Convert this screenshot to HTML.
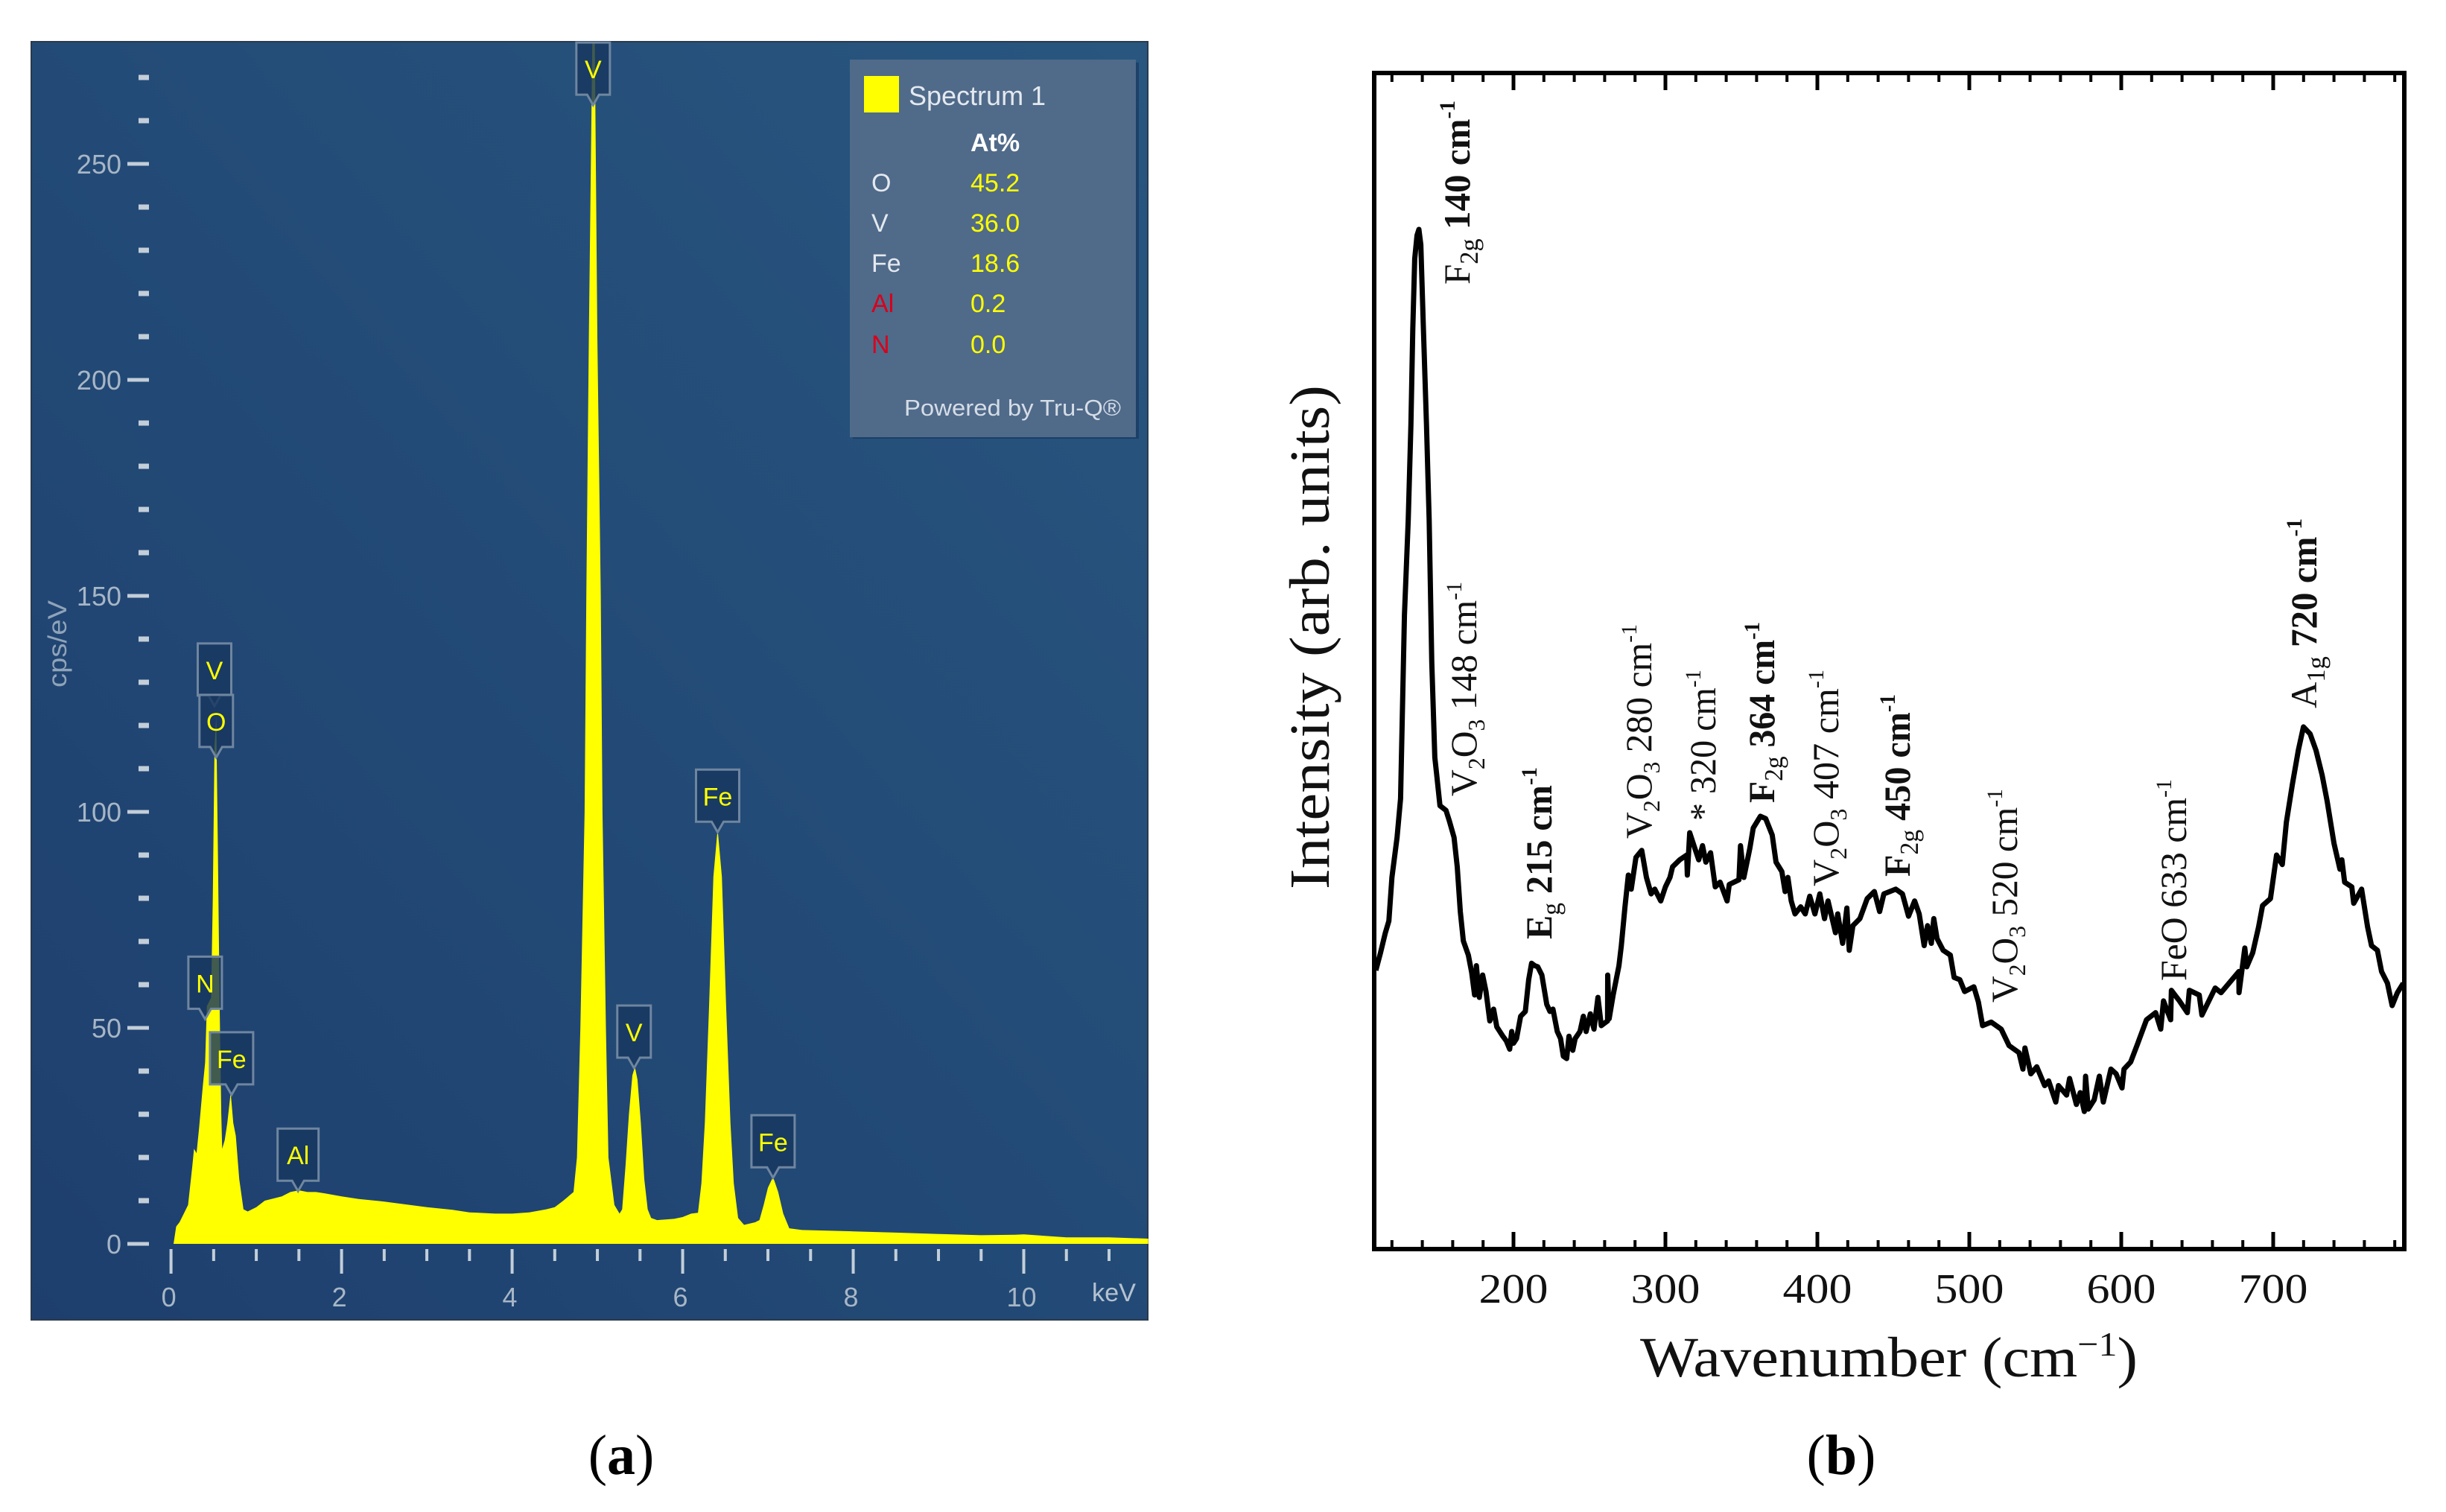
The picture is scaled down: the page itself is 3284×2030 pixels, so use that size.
<!DOCTYPE html>
<html lang="en">
<head>
<meta charset="utf-8">
<title>EDS spectrum and Raman spectrum</title>
<style>
html,body{margin:0;padding:0;background:#fff;}
svg{display:block;}
.ann{font-family:"Liberation Serif",serif;font-size:50px;fill:#111;}
.annb{font-family:"Liberation Serif",serif;font-size:50px;font-weight:bold;fill:#111;}
.annr{font-weight:normal;}
.leg{font-family:"Liberation Sans",sans-serif;font-size:34px;}
</style>
</head>
<body>
<svg id="fig" xmlns="http://www.w3.org/2000/svg" width="3284" height="2030" viewBox="0 0 3284 2030">
<defs>
<linearGradient id="bg" x1="0" y1="1" x2="1" y2="0">
<stop offset="0" stop-color="#1e3f6e"/>
<stop offset="1" stop-color="#28567f"/>
</linearGradient>
</defs>
<rect width="3284" height="2030" fill="#fff"/>

<g id="panelA">
<rect x="42" y="56" width="1499" height="1716" fill="url(#bg)" stroke="#2b3a4c" stroke-width="2"/>
</g>
<g id="legendA">
<rect x="1145" y="84" width="384" height="505" fill="#16335a" opacity="0.6"/>
<rect x="1141" y="80" width="384" height="507" fill="#506a8a"/>
<rect x="1160" y="102" width="47" height="49" fill="#ffff00"/>
<text x="1220" y="141" class="leg" font-size="36" style="font-size:36px" fill="#e4e9ef">Spectrum 1</text>
<text x="1303" y="203" class="leg" style="font-weight:bold" fill="#ffffff">At%</text>
<text x="1170" y="257" class="leg" fill="#e4e9ef">O</text>
<text x="1303" y="257" class="leg" fill="#ffff00">45.2</text>
<text x="1170" y="311" class="leg" fill="#e4e9ef">V</text>
<text x="1303" y="311" class="leg" fill="#ffff00">36.0</text>
<text x="1170" y="365" class="leg" fill="#e4e9ef">Fe</text>
<text x="1303" y="365" class="leg" fill="#ffff00">18.6</text>
<text x="1170" y="419" class="leg" fill="#d9001b">Al</text>
<text x="1303" y="419" class="leg" fill="#ffff00">0.2</text>
<text x="1170" y="474" class="leg" fill="#d9001b">N</text>
<text x="1303" y="474" class="leg" fill="#ffff00">0.0</text>
<text x="1214" y="558" class="leg" style="font-size:31px" fill="#d5dde6" textLength="291" lengthAdjust="spacingAndGlyphs">Powered by Tru-Q®</text>
</g>
<text transform="translate(89,923) rotate(-90)" font-family="Liberation Sans, sans-serif" font-size="35" fill="#8fa3b9" textLength="117" lengthAdjust="spacingAndGlyphs">cps/eV</text>
<text x="1466" y="1747" font-family="Liberation Sans, sans-serif" font-size="34" fill="#b5c2d0" textLength="59" lengthAdjust="spacingAndGlyphs">keV</text>
<text x="834" y="1979" text-anchor="middle" font-family="Liberation Serif, serif" font-size="76" fill="#000">(<tspan font-weight="bold">a</tspan>)</text>

<g id="panelB">
<rect x="1845" y="98" width="1383" height="1579" fill="#fff" stroke="#000" stroke-width="6"/>
</g>
<text transform="translate(1784,1194) rotate(-90)" font-family="Liberation Serif, serif" font-size="76" fill="#111" textLength="677" lengthAdjust="spacingAndGlyphs">Intensity (arb. units)</text>
<text x="2202" y="1848" font-family="Liberation Serif, serif" font-size="76" fill="#111" textLength="668" lengthAdjust="spacingAndGlyphs">Wavenumber (cm<tspan font-size="46" dy="-28">−1</tspan><tspan dy="28">)</tspan></text>
<text x="2472" y="1979" text-anchor="middle" font-family="Liberation Serif, serif" font-size="76" fill="#000">(<tspan font-weight="bold">b</tspan>)</text>

<g id="annotations">
<text class="annb" transform="translate(1973,382) rotate(-90)" textLength="247" lengthAdjust="spacingAndGlyphs"><tspan class="annr">F</tspan><tspan class="annr" font-size="35" dy="11">2g</tspan><tspan dy="-11"> 140 cm</tspan><tspan font-size="30" dy="-20">-1</tspan></text>
<text class="ann" transform="translate(1982,1069) rotate(-90)" textLength="288" lengthAdjust="spacingAndGlyphs">V<tspan font-size="32" dy="11">2</tspan><tspan dy="-11">O</tspan><tspan font-size="32" dy="11">3</tspan><tspan dy="-11"> 148 cm</tspan><tspan font-size="30" dy="-20">-1</tspan></text>
<text class="annb" transform="translate(2083,1261) rotate(-90)" textLength="231" lengthAdjust="spacingAndGlyphs">E<tspan class="annr" font-size="35" dy="11">g</tspan><tspan dy="-11"> 215 cm</tspan><tspan font-size="30" dy="-20">-1</tspan></text>
<text class="ann" transform="translate(2217,1126) rotate(-90)" textLength="288" lengthAdjust="spacingAndGlyphs">V<tspan font-size="32" dy="11">2</tspan><tspan dy="-11">O</tspan><tspan font-size="32" dy="11">3</tspan><tspan dy="-11"> 280 cm</tspan><tspan font-size="30" dy="-20">-1</tspan></text>
<text class="ann" transform="translate(2303,1102) rotate(-90)" textLength="203" lengthAdjust="spacingAndGlyphs">* 320 cm<tspan font-size="30" dy="-20">-1</tspan></text>
<text class="annb" transform="translate(2382,1078) rotate(-90)" textLength="243" lengthAdjust="spacingAndGlyphs">F<tspan class="annr" font-size="35" dy="11">2g</tspan><tspan dy="-11"> 364 cm</tspan><tspan font-size="30" dy="-20">-1</tspan></text>
<text class="ann" transform="translate(2468,1190) rotate(-90)" textLength="291" lengthAdjust="spacingAndGlyphs">V<tspan font-size="32" dy="11">2</tspan><tspan dy="-11">O</tspan><tspan font-size="32" dy="11">3</tspan><tspan dy="-11"> 407 cm</tspan><tspan font-size="30" dy="-20">-1</tspan></text>
<text class="annb" transform="translate(2564,1177) rotate(-90)" textLength="245" lengthAdjust="spacingAndGlyphs">F<tspan class="annr" font-size="35" dy="11">2g</tspan><tspan dy="-11"> 450 cm</tspan><tspan font-size="30" dy="-20">-1</tspan></text>
<text class="ann" transform="translate(2708,1346) rotate(-90)" textLength="287" lengthAdjust="spacingAndGlyphs">V<tspan font-size="32" dy="11">2</tspan><tspan dy="-11">O</tspan><tspan font-size="32" dy="11">3</tspan><tspan dy="-11"> 520 cm</tspan><tspan font-size="30" dy="-20">-1</tspan></text>
<text class="ann" transform="translate(2935,1317) rotate(-90)" textLength="271" lengthAdjust="spacingAndGlyphs">FeO 633 cm<tspan font-size="30" dy="-20">-1</tspan></text>
<text class="annb" transform="translate(3110,951) rotate(-90)" textLength="255" lengthAdjust="spacingAndGlyphs"><tspan class="annr">A</tspan><tspan class="annr" font-size="35" dy="11">1g</tspan><tspan dy="-11"> 720 cm</tspan><tspan font-size="30" dy="-20">-1</tspan></text>
</g>
</svg>
<script>
/* Panel (a): EDS spectrum */
var edsKeV = [0.03,0.06,0.1,0.15,0.2,0.25,0.27,0.3,0.33,0.37,0.4,0.42,0.47,0.49,0.51,0.53,0.55,0.57,0.59,0.6,0.63,0.66,0.7,0.73,0.76,0.8,0.85,0.9,1.0,1.1,1.2,1.3,1.4,1.5,1.6,1.7,1.8,2.0,2.2,2.5,2.8,3.0,3.3,3.5,3.8,4.0,4.2,4.4,4.5,4.6,4.72,4.76,4.8,4.85,4.87,4.9,4.94,4.97,5.0,5.04,5.06,5.1,5.13,5.2,5.26,5.29,5.33,5.37,5.41,5.44,5.47,5.51,5.55,5.59,5.63,5.7,5.9,6.0,6.1,6.18,6.22,6.26,6.31,6.36,6.41,6.46,6.51,6.56,6.6,6.65,6.72,6.85,6.9,6.95,7.0,7.06,7.12,7.18,7.25,7.4,8.0,8.5,9.0,9.5,9.9,10.0,10.5,11.0,11.46];
var edsCps = [0,4,5,7,9,18,22,21,27,36,42,55,57,80,115,122,90,55,30,22,24,28,35,28,25,15,8,7.5,8.5,10,10.5,11,12,12.4,12,12,11.7,11,10.4,9.8,9,8.5,7.9,7.3,7,7,7.3,8,8.5,10,12,20,50,100,150,210,278,278,210,150,100,50,20,9,7,8,18,30,39,41,38,28,15,8,6,5.5,5.8,6.2,7,7.2,14,28,55,85,96,85,55,28,14,6,4.4,5,5.5,9,13,15.5,12,7,3.6,3.2,2.9,2.6,2.3,2,2.1,2.2,1.5,1.5,1.2];
var edsYTicks = [0,50,100,150,200,250];
var edsYMinor = [10,20,30,40,60,70,80,90,110,120,130,140,160,170,180,190,210,220,230,240,260,270];
var edsXTicks = [0,2,4,6,8,10];
var edsXMinor = [0.5,1,1.5,2.5,3,3.5,4.5,5,5.5,6.5,7,7.5,8.5,9,9.5,10.5,11];
var peakElements = ["V","V","O","N","Fe","Al","V","Fe","Fe"];
var peakKeV = [4.95,0.51,0.53,0.40,0.71,1.49,5.43,6.41,7.06];
var peakCps = [263.6,124.5,112.6,52,34.5,12.2,40.7,95.3,15.3];

/* Panel (b): Raman spectrum */
var ramanWn = [109.4,112.5,115.6,118,120,123.4,125.7,128.25,130.75,132.5,133.75,135,136.5,137.75,139,140.75,142.75,144.5,146.25,148.25,149.4,151.6,155.6,157.8,160.9,163,165,167,170.3,172.5,174.4,175.6,177.5,179.7,181.9,184.4,186.9,189,193,195.3,197.5,198.8,200,202,204.7,207.8,210,211.9,214,216,218.7,221.9,224,226,228.8,231,232.8,235,236.5,239,240.6,243.75,246,247.8,250.6,253,255.6,257.8,261.9,262,263,265.6,269.4,271,273.4,275.6,277.5,280.6,284.4,287.5,290.6,293,296.9,300,303,304.7,309.4,314,314.4,316,318.75,321.9,324.4,326.6,329.7,332.8,336,340.6,342,348.4,349.4,351.6,355.6,357.8,362.5,366,370.3,372.8,376.6,378.75,380.6,382.8,385.3,389,392,395,398.4,401.6,404.7,407,411.9,413.4,416.6,419.4,421,423.4,428,432.8,437.5,441,443.75,451.6,456,460,464,467,470.3,472.5,475,476.6,478.75,482.8,487.5,490,493.75,496.9,503,506,508.75,514.4,521,526.2,532.7,535.3,536.6,540.5,544.4,549.6,552.2,556.9,558.7,564,566,570.5,573,575.7,576.5,578.3,582.2,585.6,588.2,593.2,596.6,600.5,601.8,606.2,610.9,616.6,622.6,626,627.8,632.5,633,638.3,643.5,644.8,651.3,653.1,661.8,665.7,677.4,677.5,681.3,682.6,686.5,690.4,693,698.2,702.2,706,708.7,712.6,716.5,719.9,724.3,728.2,732.2,735.5,740,743.9,745.2,747,751.7,753,758.2,762.1,764.7,768.6,771.3,775.2,778.3,781.7,785.6];
var ramanIntensity = [23.7,25.2,26.85,27.9,31.6,35,38.3,53.9,62,70.1,78.2,84.2,86.2,86.7,85.4,78.2,70.1,62,49.9,41.8,40.4,37.7,37.3,36.4,35,32.5,28.7,26.2,25,23.5,21.6,24.1,21.4,23.3,21.9,19.4,20.4,18.9,18.1,17.7,17,18.5,17.5,17.9,19.8,20.2,22.9,24.3,24.1,24,23.3,20.8,20.2,20.4,18.5,17.9,16.4,16.2,18.1,16.9,17.9,18.5,19.8,18.5,20,18.7,21.4,19,19.4,23.3,19.6,21.6,24.1,25.8,29.1,31.8,30.6,33.3,33.9,31.6,30.2,30.6,29.6,30.8,31.6,32.5,33.1,33.5,31.8,35.4,34.3,33.1,34.3,32.9,33.7,30.8,31.2,29.6,31,31.4,34.3,31.6,34.1,35.8,36.8,36.6,35.2,32.9,32.1,30.4,31.6,29.6,28.5,29.1,28.5,30,28.5,30.2,28.1,29.6,26.9,28.5,26,29,25.4,27.5,28.1,29.8,30.4,28.7,30.2,30.6,30.2,28.3,29.6,28.5,25.8,27.5,26,28.1,26.4,25.4,25,23.1,22.9,21.9,22.3,21,19,19.3,18.7,17.3,16.7,15.3,17.1,14.9,15.5,13.9,14.3,12.5,13.9,13.1,14.5,12.3,13.3,11.7,14.7,11.9,12.7,14.7,12.5,15.3,14.9,13.7,15.3,15.9,17.5,19.5,20.1,18.7,21.1,19.5,22,21.1,20.1,22,21.6,19.9,22.2,21.8,23.6,21.8,25.6,24,25.2,27.4,29.2,29.8,33.5,32.7,36.3,39.5,42.4,44.4,43.8,42.4,40.3,38.1,34.5,32.3,33.1,31.2,30.8,29.4,30.6,27.4,25.8,25.4,23.6,22.6,20.7,21.8,22.6];
var ramanXTicks = [200,300,400,500,600,700];
var ramanXMinor = [120,140,160,180,220,240,260,280,320,340,360,380,420,440,460,480,520,540,560,580,620,640,660,680,720,740,760,780];

var NS = "http://www.w3.org/2000/svg";
var panelA = document.getElementById("panelA");
var panelB = document.getElementById("panelB");

function edsX(k){ return 229.6 + k * 114.49; }
function edsY(c){ return 1670 - c * 5.8; }
function ramanX(w){ return 2032 + (w - 200) * 2.04; }
function ramanY(i){ return 1677 - i * 15.79; }

function svgEl(parent, tag, attrs){
  var el = document.createElementNS(NS, tag);
  for (var k in attrs) { el.setAttribute(k, attrs[k]); }
  parent.appendChild(el);
  return el;
}

/* EDS filled spectrum */
var edsPath = "M" + edsX(edsKeV[0]).toFixed(1) + " " + edsY(0).toFixed(1);
edsKeV.forEach(function(k, i){ edsPath += "L" + edsX(k).toFixed(1) + " " + edsY(edsCps[i]).toFixed(1); });
edsPath += "L" + edsX(edsKeV[edsKeV.length - 1]).toFixed(1) + " " + edsY(0).toFixed(1) + "Z";
var edsArea = svgEl(panelA, "path", {d: edsPath, fill: "#ffff00"});



/* EDS y axis */
edsYTicks.forEach(function(v){
  var t = svgEl(panelA, "rect", {x: 171, y: edsY(v) - 2.5, width: 29, height: 5, fill: "#c3ced9"});
  
  
  var l = svgEl(panelA, "text", {x: 163, y: edsY(v) + 13, "text-anchor": "end", "font-family": "Liberation Sans, sans-serif", "font-size": 36, fill: "#a7b6c6"});
  l.textContent = v;
  
  
});
edsYMinor.forEach(function(v){
  var t = svgEl(panelA, "rect", {x: 186, y: edsY(v) - 3.5, width: 14, height: 7, fill: "#c3ced9"});
  
  
});

/* EDS x axis */
edsXTicks.forEach(function(v){
  var t = svgEl(panelA, "rect", {x: edsX(v) - 2, y: 1677, width: 4, height: 33, fill: "#c3ced9"});
  
  
  var l = svgEl(panelA, "text", {x: edsX(v) - 3, y: 1754, "text-anchor": "middle", "font-family": "Liberation Sans, sans-serif", "font-size": 36, fill: "#a7b6c6"});
  l.textContent = v;
  
  
});
edsXMinor.forEach(function(v){
  var t = svgEl(panelA, "rect", {x: edsX(v) - 2, y: 1677, width: 4, height: 16, fill: "#c3ced9"});
  
  
});

/* EDS peak callouts */
peakElements.forEach(function(name, i){
  var cx = edsX(peakKeV[i]), tip = edsY(peakCps[i]);
  var w = name === "Fe" ? 58 : (name === "Al" ? 55 : 45);
  var bottom = tip - 14, top = bottom - 70;
  var d = "M" + (cx - w / 2) + " " + top + "H" + (cx + w / 2) + "V" + bottom + "H" + (cx + 8) + "L" + cx + " " + tip + "L" + (cx - 8) + " " + bottom + "H" + (cx - w / 2) + "Z";
  var box = svgEl(panelA, "path", {d: d, fill: "#17375f", "fill-opacity": 0.82, stroke: "#6f86a0", "stroke-width": 3});
  
  
  var l = svgEl(panelA, "text", {x: cx, y: top + 48, "text-anchor": "middle", "font-family": "Liberation Sans, sans-serif", "font-size": 34, fill: "#ffff00"});
  l.textContent = name;
  
  
});

/* Raman ticks */
ramanXTicks.forEach(function(v){
  var b = svgEl(panelB, "rect", {x: ramanX(v) - 2.5, y: 1654, width: 5, height: 23, fill: "#000"});
  
  
  var t = svgEl(panelB, "rect", {x: ramanX(v) - 2.5, y: 98, width: 5, height: 23, fill: "#000"});
  
  
  var l = svgEl(panelB, "text", {x: ramanX(v), y: 1749, "text-anchor": "middle", "font-family": "Liberation Serif, serif", "font-size": 56, fill: "#111", textLength: 93, lengthAdjust: "spacingAndGlyphs"});
  l.textContent = v;
  
  
});
ramanXMinor.forEach(function(v){
  var b = svgEl(panelB, "rect", {x: ramanX(v) - 2, y: 1665, width: 4, height: 12, fill: "#000"});
  
  
  var t = svgEl(panelB, "rect", {x: ramanX(v) - 2, y: 98, width: 4, height: 12, fill: "#000"});
  
  
});

/* Raman line */
var ramanPath = "";
ramanWn.forEach(function(w, i){ ramanPath += (i ? "L" : "M") + ramanX(w).toFixed(1) + " " + ramanY(ramanIntensity[i]).toFixed(1); });
var ramanLine = svgEl(panelB, "path", {d: ramanPath, fill: "none", stroke: "#000", "stroke-width": 7, "stroke-linejoin": "round"});


</script>
</body>
</html>
